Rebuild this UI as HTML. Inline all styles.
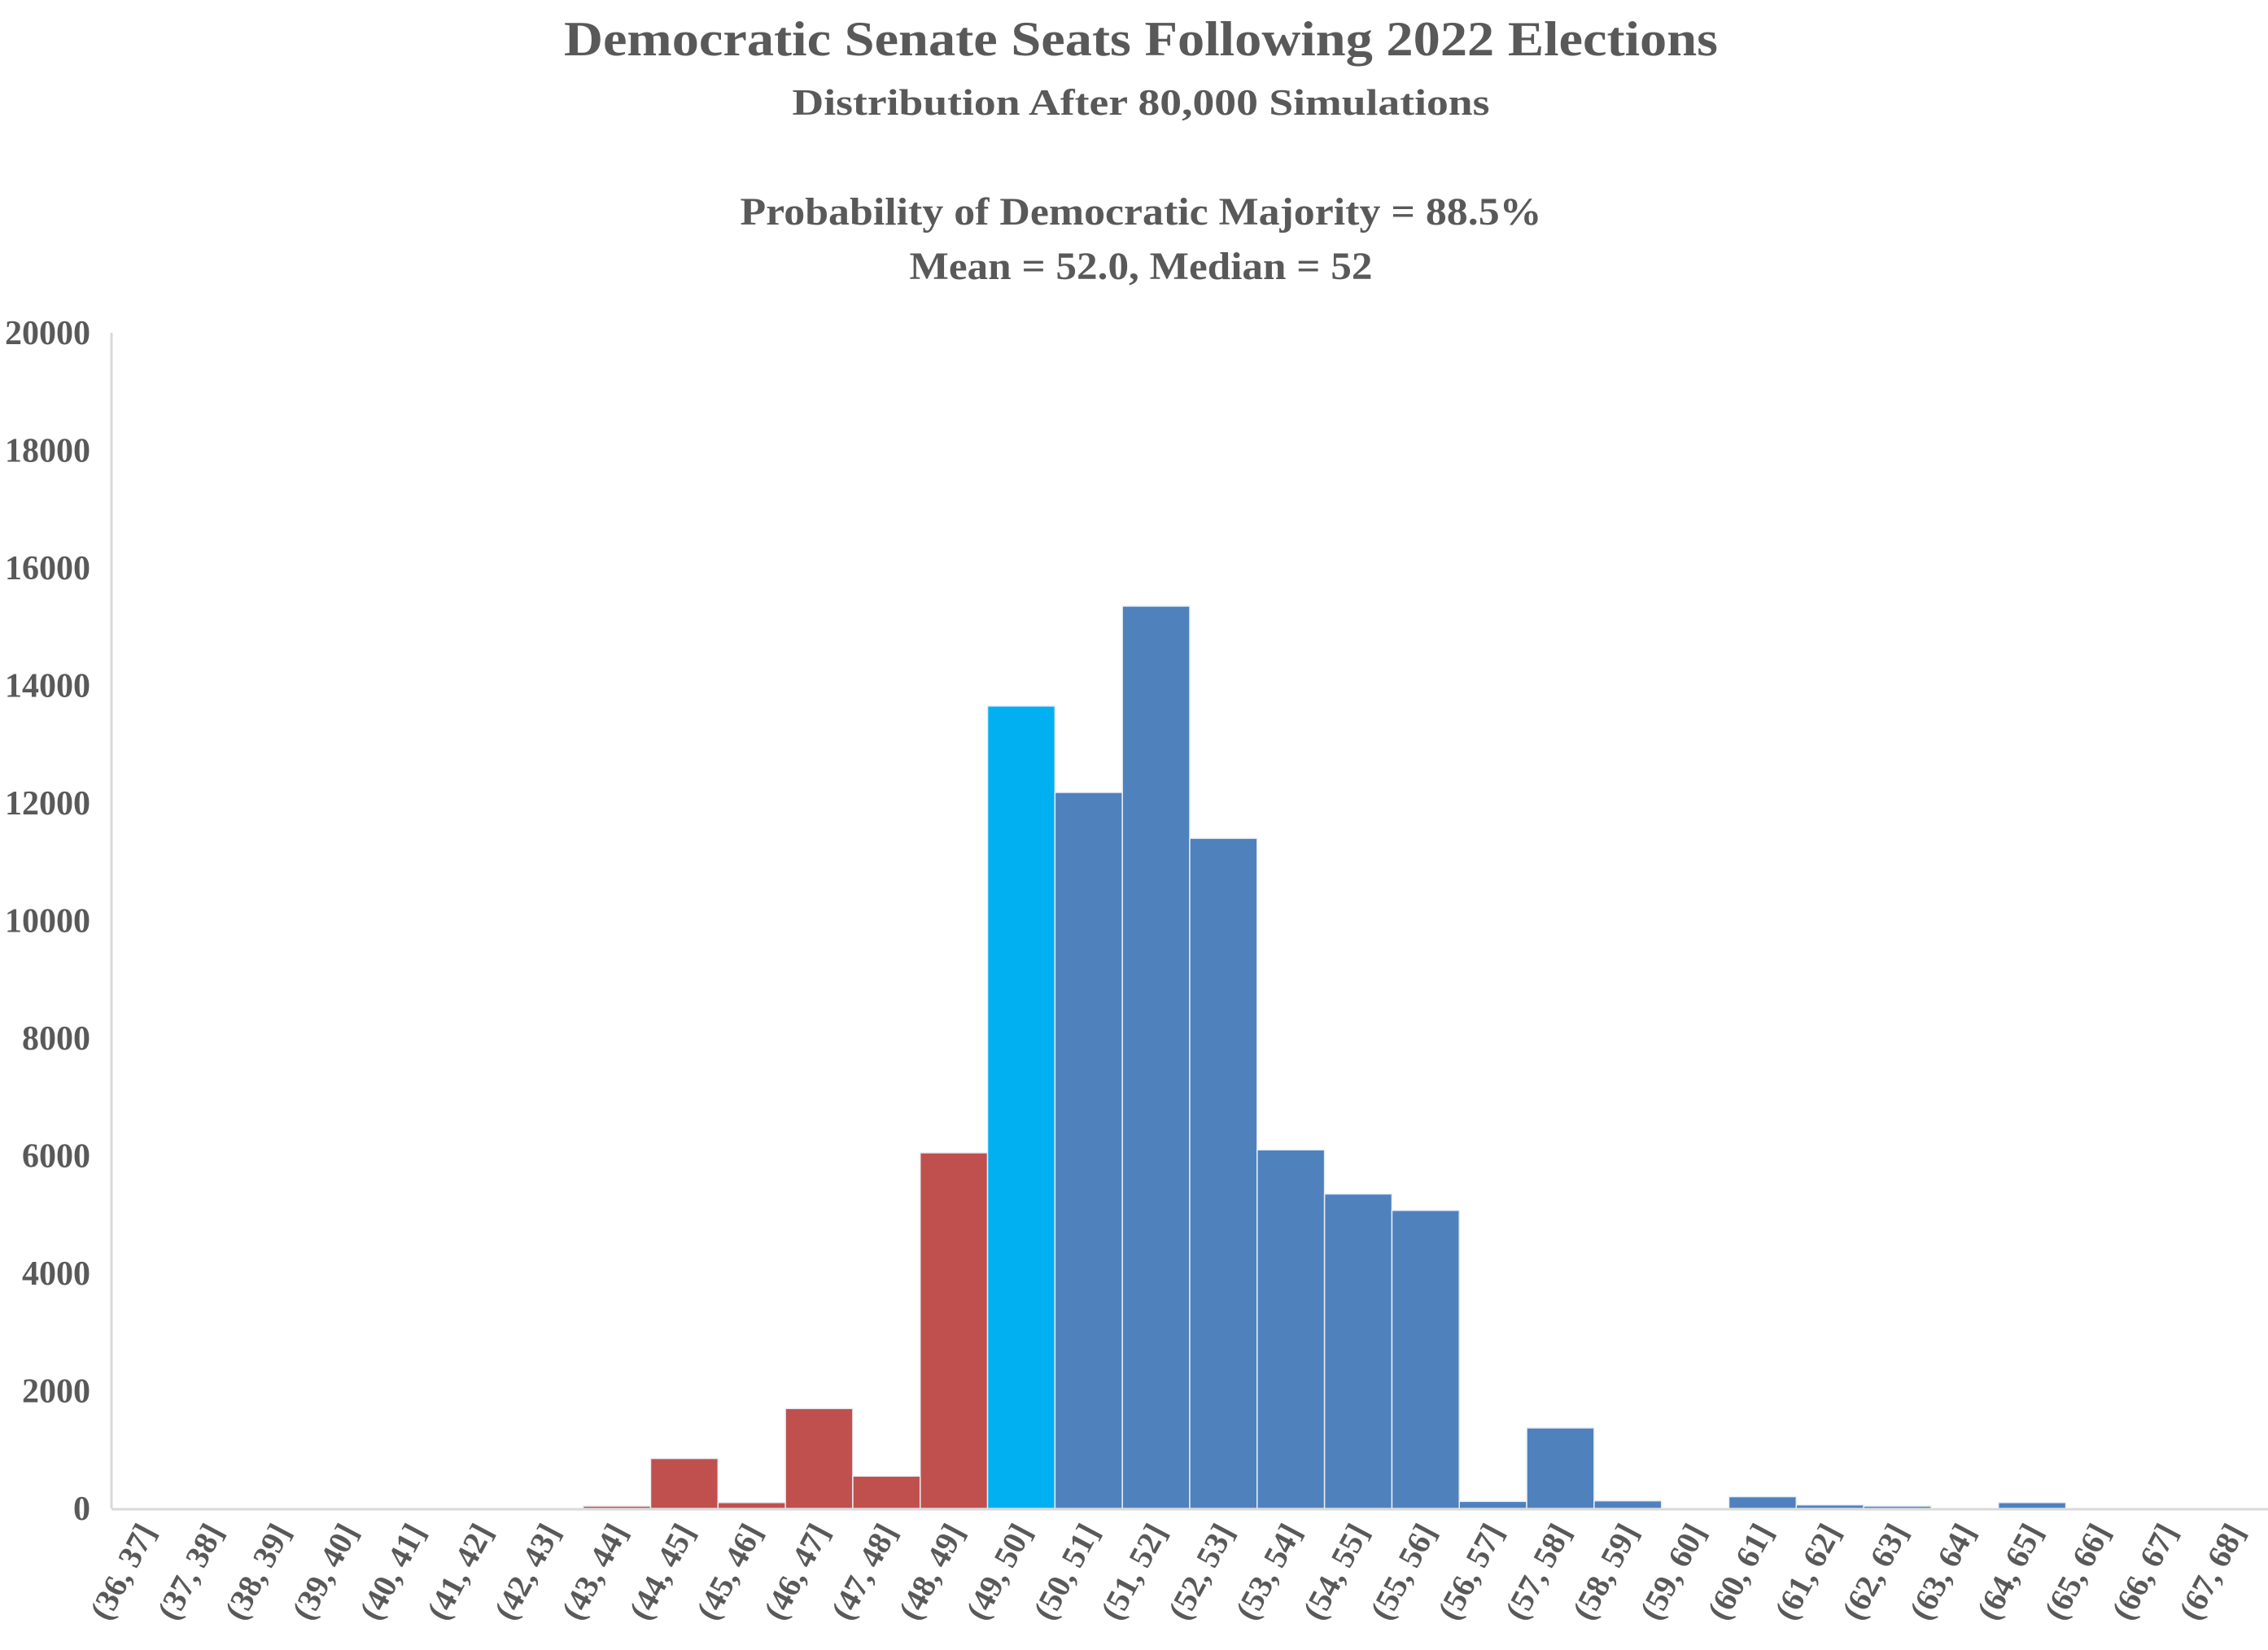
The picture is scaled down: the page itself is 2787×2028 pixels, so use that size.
<!DOCTYPE html>
<html><head><meta charset="utf-8"><style>
body{margin:0;background:#fff;}
svg{display:block;font-family:"Liberation Serif",serif;}
</style></head><body>
<svg id="chart" width="2787" height="2028" viewBox="0 0 2787 2028" xmlns="http://www.w3.org/2000/svg">
<g fill="#595959" font-weight="bold" text-anchor="middle">
<text x="1402" y="68" font-size="60" textLength="1418" lengthAdjust="spacingAndGlyphs">Democratic Senate Seats Following 2022 Elections</text>
<text x="1402" y="141" font-size="46" textLength="857" lengthAdjust="spacingAndGlyphs">Distribution After 80,000 Simulations</text>
<text x="1402" y="276" font-size="48" textLength="985" lengthAdjust="spacingAndGlyphs">Probability of Democratic Majority = 88.5%</text>
<text x="1402" y="343" font-size="48" textLength="569" lengthAdjust="spacingAndGlyphs">Mean = 52.0, Median = 52</text>
</g>
<line x1="137" y1="409" x2="137" y2="1854" stroke="#D9D9D9" stroke-width="3"/>
<g id="yticks"></g>
<g id="bars"></g>
<line x1="137" y1="1855" x2="2787" y2="1855" stroke="#D9D9D9" stroke-width="3"/>
<g id="xlabels"></g>
</svg>
<script>
const binStarts = [36,37,38,39,40,41,42,43,44,45,46,47,48,49,50,51,52,53,54,55,56,57,58,59,60,61,62,63,64,65,66,67];
const counts = [0,0,0,0,0,0,0,40,850,100,1700,550,6050,13650,12180,15350,11400,6100,5350,5070,120,1370,130,0,200,60,40,0,100,0,0,0];
const yTicks = [0,2000,4000,6000,8000,10000,12000,14000,16000,18000,20000];
const NS="http://www.w3.org/2000/svg";
const x0=137,x1=2787,yTop=409,yBot=1854,yMax=20000;
const bw=(x1-x0)/binStarts.length;
const xs=i=>x0+i*bw;
const ys=v=>yBot-(v/yMax)*(yBot-yTop);
const yt=document.getElementById('yticks');
yTicks.forEach(t=>{
  const e=document.createElementNS(NS,'text');
  
  
  e.setAttribute('x',111);e.setAttribute('y',ys(t)+14);
  e.setAttribute('text-anchor','end');e.setAttribute('font-size','42');
  e.setAttribute('font-weight','bold');e.setAttribute('fill','#595959');
  e.textContent=t;yt.appendChild(e);
});
const bg=document.getElementById('bars');
const xl=document.getElementById('xlabels');
binStarts.forEach((b,i)=>{
  const v=counts[i];
  const col=b<49?'#C0504D':(b===49?'#00B0F0':'#4F81BD');
  if(v>0){
    const r=document.createElementNS(NS,'rect');
    
    
    r.setAttribute('x',xs(i));r.setAttribute('y',ys(v));
    r.setAttribute('width',bw);r.setAttribute('height',yBot-ys(v));
    r.setAttribute('fill',col);r.setAttribute('stroke','#E8EEF6');r.setAttribute('stroke-width','1.5');
    bg.appendChild(r);
  }
  const cx=xs(i)+bw/2+14, cy=1882;
  const t=document.createElementNS(NS,'text');
  
  
  t.setAttribute('x',cx);t.setAttribute('y',cy);
  t.setAttribute('text-anchor','end');t.setAttribute('font-size','40');
  t.setAttribute('font-weight','bold');t.setAttribute('fill','#595959');
  t.setAttribute('transform','rotate(-62 '+cx+' '+cy+')');
  t.textContent='('+b+', '+(b+1)+']';
  xl.appendChild(t);
});
</script>
</body></html>
